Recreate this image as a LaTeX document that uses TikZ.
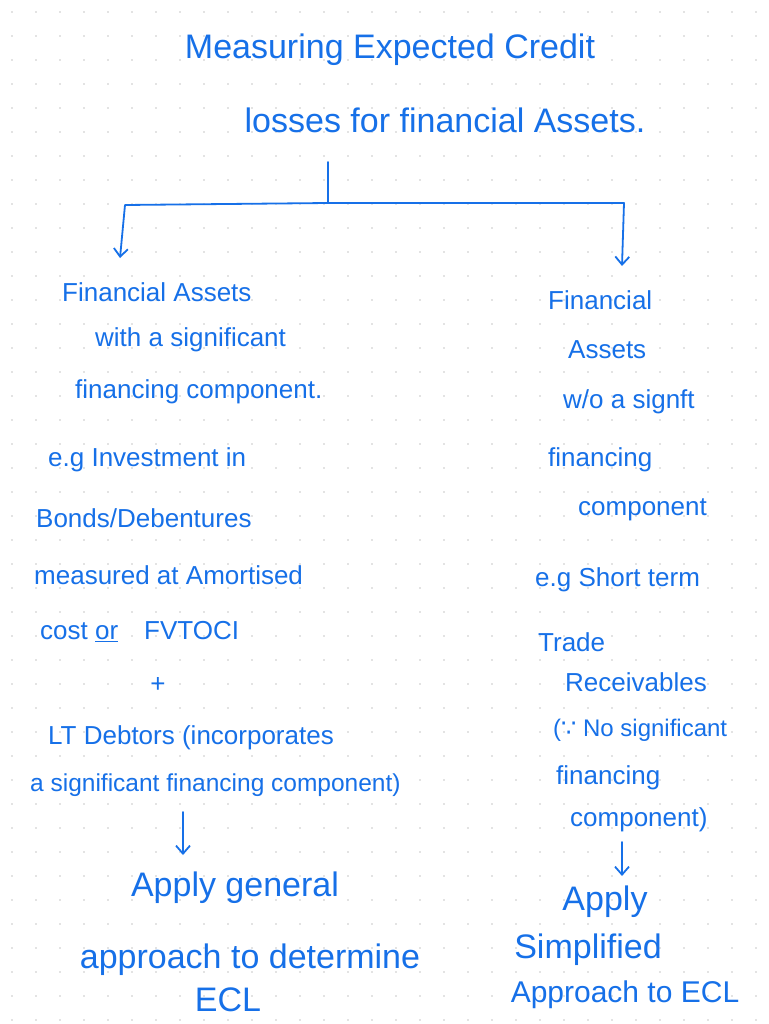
\documentclass[tikz,border=0pt]{standalone}
\usepackage{fontspec}
\setmainfont{Liberation Sans}
\newfontfamily\symfont{DejaVu Sans}
\usetikzlibrary{arrows.meta}
\definecolor{ink}{RGB}{22,112,232}
\definecolor{dotc}{RGB}{200,200,200}
\begin{document}
\begin{tikzpicture}[x=1pt,y=-1pt,
  txt/.style={text=ink,font=\fontsize{26}{29}\selectfont,inner sep=0pt},
  ttl/.style={text=ink,font=\fontsize{34}{38}\selectfont,inner sep=0pt},
  conn/.style={draw=ink,line width=1.8pt,line cap=round,line join=round},
  arr/.style={conn,-{Straight Barb[length=8pt,width=14pt]}}]
\useasboundingbox (0,0) rectangle (768,1024);
\fill[white] (0,0) rectangle (768,1024);
\foreach \i in {0,...,32}{\foreach \j in {0,...,42}{
  \fill[dotc] (\i*24+12,\j*24+12) circle (0.9);}}
% title
\node[ttl] (t1) at (390,50) {Measuring Expected Credit};
\node[ttl] (t2) at (445,120) {losses for financial Assets.};
\coordinate (j0) at (328,162);
\coordinate (j1) at (328,203);
\coordinate (jl) at (125,205);
\coordinate (jr) at (624,203);
\coordinate (al) at (120,258);
\coordinate (ar) at (622,266);
\draw[conn] (j0) -- (j1);
\draw[arr] (j1) -- (jl) -- (al);
\draw[arr] (j1) -- (jr) -- (ar);
% left
\node[txt,anchor=west] (l1) at (62,292) {Financial Assets};
\node[txt,anchor=west] (l2) at (95,340) {with a significant};
\node[txt,anchor=west] (l3) at (75,392) {financing component.};
\node[txt,anchor=west] (l4) at (48,460) {e.g Investment in};
\node[txt,anchor=west] (l5) at (36,518) {Bonds/Debentures};
\node[txt,anchor=west] (l6) at (34,575) {measured at Amortised};
\node[txt,anchor=west] (l7) at (40,632) {cost \underline{or}\quad FVTOCI};
\node[txt] (l8) at (158,685) {+};
\node[txt,anchor=west] (l9) at (48,738) {LT Debtors (incorporates};
\node[txt,anchor=west,font=\fontsize{24.5}{28}\selectfont] (l10) at (30,785) {a significant financing component)};
\coordinate (la1) at (183,812);
\coordinate (la2) at (183,855);
\draw[arr] (la1) -- (la2);
\node[ttl] (l11) at (235,888) {Apply general};
\node[ttl] (l12) at (250,960) {approach to determine};
\node[ttl] (l13) at (228,1000) {ECL};
% right
\node[txt,anchor=west] (r1) at (548,300) {Financial};
\node[txt,anchor=west] (r2) at (568,350) {Assets};
\node[txt,anchor=west] (r3) at (563,402) {w/o a signft};
\node[txt,anchor=west] (r4) at (548,460) {financing};
\node[txt,anchor=west] (r5) at (578,510) {component};
\node[txt,anchor=west] (r6) at (535,580) {e.g Short term};
\node[txt,anchor=west] (r7) at (538,642) {Trade};
\node[txt,anchor=west] (r8) at (565,682) {Receivables};
\node[txt,anchor=west,font=\fontsize{24}{28}\selectfont] (r9) at (553,730) {({\symfont ∵} No significant};
\node[txt,anchor=west] (r10) at (556,778) {financing};
\node[txt,anchor=west] (r11) at (570,820) {component)};
\coordinate (ra1) at (622,842);
\coordinate (ra2) at (622,876);
\draw[arr] (ra1) -- (ra2);
\node[ttl] (r12) at (605,902) {Apply};
\node[ttl] (r13) at (588,950) {Simplified};
\node[ttl,font=\fontsize{30}{34}\selectfont] (r14) at (625,995) {Approach to ECL};
\end{tikzpicture}
\end{document}
